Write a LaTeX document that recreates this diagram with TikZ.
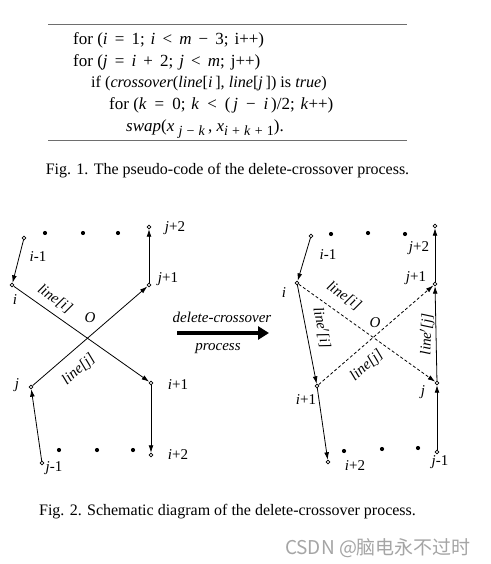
\documentclass[tikz,border=0pt]{standalone}
\usepackage{fontspec}
\setmainfont{Liberation Serif}
\newfontfamily\cjk{Noto Sans CJK SC}
\usetikzlibrary{arrows.meta}
\definecolor{rulegray}{RGB}{110,110,110}
\definecolor{wmgray}{RGB}{165,165,165}
\newcommand{\myop}[1]{\hspace{0.42em}#1\hspace{0.42em}}
\newcommand{\mywop}[1]{\hspace{0.47em}#1\hspace{0.47em}}
\newcommand{\mysemi}{;\hspace{0.35em}}
\newcommand{\mysub}[1]{\hspace{0.3em}#1\hspace{0.3em}}
\tikzset{
  pt/.style={circle,draw,fill=white,inner sep=0pt,minimum size=3.8pt,line width=0.6pt},
  dotp/.style={circle,fill,inner sep=0pt,minimum size=4.2pt},
  conn/.style={-{Latex[length=7.5pt,width=4.8pt]},line width=0.8pt},
  dconn/.style={conn,dash pattern=on 3pt off 2.2pt},
  lbl/.style={font=\fontsize{15}{18}\selectfont\itshape,inner sep=0pt},
  plab/.style={font=\fontsize{15}{18}\selectfont,inner sep=0pt},
  code/.style={font=\fontsize{17}{20}\selectfont,anchor=base west,inner sep=0pt},
  capnode/.style={font=\fontsize{16}{19}\selectfont,anchor=base,inner sep=0pt},
  rulel/.style={draw=rulegray,line width=0.9pt}
}
\begin{document}
\begin{tikzpicture}[x=1pt,y=-1pt]
\useasboundingbox[fill=white] (0,0) rectangle (490,564);
% pseudo-code table
\coordinate (r1a) at (48,24); \coordinate (r1b) at (407,24);
\coordinate (r2a) at (48,140); \coordinate (r2b) at (407,140);
\draw[rulel] (r1a) -- (r1b);
\draw[rulel] (r2a) -- (r2b);
\node[code] (c1) at (73,45) {for (\textit{i}\myop{=}1\mysemi\textit{i}\myop{<}\textit{m}\myop{−}3\mysemi i++)};
\node[code] (c2) at (73,67) {for (\textit{j}\myop{=}\textit{i}\myop{+}2\mysemi\textit{j}\myop{<}\textit{m}\mysemi j++)};
\node[code,font=\fontsize{16.2}{19}\selectfont] (c3) at (91,88) {if (\textit{crossover}(\textit{line}[\textit{i}\,], \textit{line}[\textit{j}\,]) is \textit{true})};
\node[code] (c4) at (109,110) {for (\textit{k}\mywop{=}0\mysemi\textit{k}\mywop{<}(\,\textit{j}\mywop{−}\textit{i}\,)/2\mysemi\textit{k}++)};
\node[code] (c5) at (126,132) {\textit{swap}(\textit{x}\raisebox{-0.45ex}{\fontsize{14}{16}\selectfont\hspace{0.3em}\textit{j}\mysub{−}\textit{k}}\,, \textit{x}\raisebox{-0.45ex}{\fontsize{14}{16}\selectfont\textit{i}\mysub{+}\textit{k}\mysub{+}1}).};
\node[capnode] (cap1) at (227.5,175) {Fig. 1. The pseudo-code of the delete-crossover process.};

% ---------- left diagram ----------
\node[pt] (Lim1) at (24,238) {};
\node[pt] (Li) at (12,285) {};
\node[pt] (Lip1) at (151,383) {};
\node[pt] (Lip2) at (151,455) {};
\node[pt] (Ljm1) at (42,463) {};
\node[pt] (Lj) at (31,387) {};
\node[pt] (Ljp1) at (149,285) {};
\node[pt] (Ljp2) at (149,227) {};
\node[dotp] (Ld1) at (45,233) {};
\node[dotp] (Ld2) at (83,233) {};
\node[dotp] (Ld3) at (118,233) {};
\node[dotp] (Ld4) at (59,450) {};
\node[dotp] (Ld5) at (97,450) {};
\node[dotp] (Ld6) at (133,450) {};
\draw[conn] (Lim1) -- (Li);
\draw[conn] (Li) -- (Lip1);
\draw[conn] (Lip1) -- (Lip2);
\draw[conn] (Ljm1) -- (Lj);
\draw[conn] (Lj) -- (Ljp1);
\draw[conn] (Ljp1) -- (Ljp2);
\node[plab] (tLim1) at (38,257) {\textit{i}-1};
\node[plab] (tLi) at (15,300) {\textit{i}};
\node[plab] (tLip1) at (178,385) {\textit{i}+1};
\node[plab] (tLip2) at (178,455) {\textit{i}+2};
\node[plab] (tLjm1) at (54,468) {\textit{j}-1};
\node[plab] (tLj) at (17,385) {\textit{j}};
\node[plab] (tLjp1) at (168,279) {\textit{j}+1};
\node[plab] (tLjp2) at (175,228) {\textit{j}+2};
\node[lbl] (tLO) at (90,318) {O};
\node[lbl,rotate=-35] (tLli) at (55,299) {line[i]};
\node[lbl,rotate=41] (tLlj) at (79,370) {line[j]};

% ---------- middle arrow ----------
\coordinate (ma) at (177,333);
\coordinate (mb) at (269,333);
\draw[line width=3.8pt,-{Triangle[length=11pt,width=13pt]}] (ma) -- (mb);
\node[lbl] (tdc) at (222,317) {delete-crossover};
\node[lbl] (tpr) at (218,349) {process};

% ---------- right diagram ----------
\node[pt] (Rim1) at (311,236) {};
\node[pt] (Ri) at (297,283) {};
\node[pt] (Rip1) at (317,386) {};
\node[pt] (Rip2) at (328,462) {};
\node[pt] (Rjm1) at (437,452) {};
\node[pt] (Rj) at (437,383) {};
\node[pt] (Rjp1) at (435,284) {};
\node[pt] (Rjp2) at (435,226) {};
\node[dotp] (Rd1) at (331,234) {};
\node[dotp] (Rd2) at (368,233) {};
\node[dotp] (Rd3) at (405,234) {};
\node[dotp] (Rd4) at (344,451) {};
\node[dotp] (Rd5) at (382,449) {};
\node[dotp] (Rd6) at (418,448) {};
\draw[conn] (Rim1) -- (Ri);
\draw[conn] (Ri) -- (Rip1);
\draw[conn] (Rip1) -- (Rip2);
\draw[dconn] (Ri) -- (Rj);
\draw[dconn] (Rip1) -- (Rjp1);
\draw[conn] (Rjm1) -- (Rj);
\draw[conn] (Rj) -- (Rjp1);
\draw[conn] (Rjp1) -- (Rjp2);
\node[plab] (tRim1) at (328,255) {\textit{i}-1};
\node[plab] (tRi) at (284,293) {\textit{i}};
\node[plab] (tRip1) at (306,400) {\textit{i}+1};
\node[plab] (tRip2) at (355,466) {\textit{i}+2};
\node[plab] (tRjm1) at (440,462) {\textit{j}-1};
\node[plab] (tRj) at (423,392) {\textit{j}};
\node[plab] (tRjp1) at (416,278) {\textit{j}+1};
\node[plab] (tRjp2) at (419,248) {\textit{j}+2};
\node[lbl] (tRO) at (375,323) {O};
\node[lbl,rotate=-35] (tRli) at (344,296) {line[i]};
\node[lbl,rotate=-79] (tRlpi) at (322,328) {line$'$[i]};
\node[lbl,rotate=41] (tRlj) at (367,366) {line[j]};
\node[lbl,rotate=88] (tRlpj) at (427,334) {line$'$[j]};

% captions
\node[capnode] (cap2) at (227.5,515) {Fig. 2. Schematic diagram of the delete-crossover process.};
\node[font=\fontsize{19}{22}\selectfont\cjk,text=wmgray,anchor=base,inner sep=0pt] (wm) at (378,554) {CSDN @脑电永不过时};
\end{tikzpicture}
\end{document}
